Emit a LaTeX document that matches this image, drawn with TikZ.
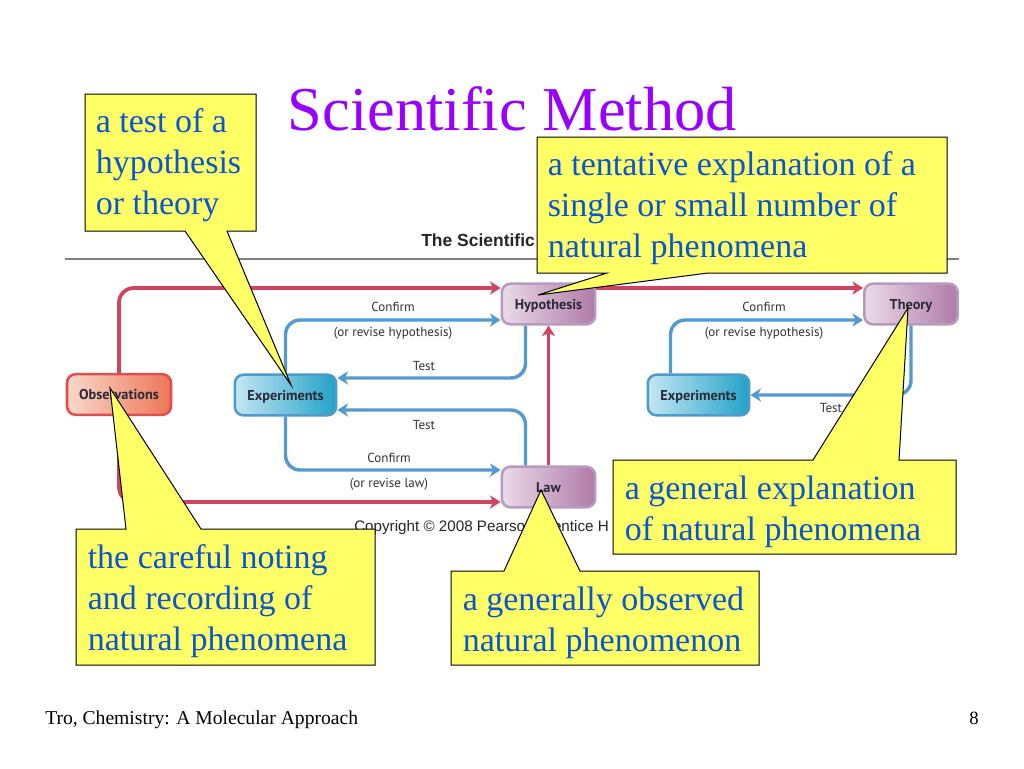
\documentclass[tikz,border=0pt]{standalone}
\usepackage{fontspec}
\setmainfont{Liberation Serif}
\newfontfamily\labfont{PT Sans}
\newfontfamily\arialfont{Liberation Sans}
\usetikzlibrary{arrows.meta,calc}
\definecolor{redline}{HTML}{D1435F}
\definecolor{blueline}{HTML}{5499CF}
\definecolor{calloutfill}{HTML}{FFFF66}
\definecolor{callouttext}{HTML}{0A55D2}
\definecolor{titlecol}{HTML}{9900FF}
\definecolor{labelcol}{HTML}{2A2A38}
\definecolor{obsL}{HTML}{F8D8CA}
\definecolor{obsR}{HTML}{EE7558}
\definecolor{obsD}{HTML}{E04E52}
\definecolor{expL}{HTML}{C4E6F3}
\definecolor{expR}{HTML}{22A2C8}
\definecolor{expD}{HTML}{4F9ACB}
\definecolor{purL}{HTML}{EADBE8}
\definecolor{purR}{HTML}{B07AA8}
\definecolor{purD}{HTML}{B69AC0}
\newcommand{\pxu}{0.75pt}
\tikzset{
  x=0.75pt,y=-0.75pt,
  box/.style={rounded corners=6.5pt,line width=1.9pt,minimum height=30.5pt,inner sep=0pt,
    text height=8.8pt,text depth=1.2pt,
    font=\labfont\bfseries\fontsize{10.7}{12}\selectfont,text=labelcol},
  obsbox/.style={box,draw=obsD,left color=obsL,right color=obsR,minimum width=78pt},
  expbox/.style={box,draw=expD,left color=expL,right color=expR,minimum width=76pt},
  purbox/.style={box,draw=purD,left color=purL,right color=purR,minimum width=70pt},
  redarrow/.style={draw=redline,line width=2.8pt,rounded corners=11pt,-{Stealth[length=8pt,width=10pt,inset=2.5pt]}},
  bluearrow/.style={draw=blueline,line width=2.6pt,rounded corners=11pt,-{Stealth[length=8pt,width=10pt,inset=2.5pt]}},
  lab/.style={font=\labfont\fontsize{9.8}{11}\selectfont,text=black!80,inner sep=0pt},
  callout/.style={draw=black,line width=0.75pt,fill=calloutfill,line join=miter},
  calltext/.style={anchor=north west,inner sep=0pt,align=left,text=callouttext,font=\fontsize{25.5}{30.75}\selectfont},
}
\begin{document}
\begin{tikzpicture}
\useasboundingbox (0,0) rectangle (1024,768);
\fill[white] (0,0) rectangle (1024,768);
% rule and headings
\coordinate (ruleL) at (65,259);
\coordinate (ruleR) at (959,259);
\draw[gray,line width=0.9pt] (ruleL) -- (ruleR);
\node[anchor=base west,inner sep=0pt,font=\arialfont\bfseries\fontsize{13.1}{15}\selectfont,text=black!85] (head) at (421,246) {The Scientific};
\node[anchor=base west,inner sep=0pt,font=\arialfont\fontsize{11.4}{13}\selectfont,text=black!85] (copy) at (354,531) {Copyright © 2008 Pearson Prentice H};
% boxes
\node[obsbox] (obs) at (119,394.5) {Observations};
\node[expbox] (expa) at (285.5,395) {Experiments};
\node[purbox] (hyp) at (548.5,304) {Hypothesis};
\node[purbox] (law) at (548.5,487) {Law};
\node[purbox] (thy) at (911,304) {Theory};
\node[expbox] (expb) at (698.5,395) {Experiments};
% red connectors
\draw[redarrow] (obs.north) |- ([yshift=16*\pxu]hyp.west);
\draw[redarrow] (obs.south) |- ([yshift=-15*\pxu]law.west);
\draw[redarrow] ([yshift=16*\pxu]hyp.east) -- ([yshift=16*\pxu]thy.west);
\draw[redarrow] (law.north) -- (hyp.south);
% blue connectors
\draw[bluearrow] (expa.north) |- ([yshift=-16*\pxu]hyp.west);
\draw[bluearrow] ([xshift=-23*\pxu]hyp.south) |- ([yshift=17*\pxu]expa.east);
\draw[bluearrow] ([xshift=-23*\pxu]law.north) |- ([yshift=-15*\pxu]expa.east);
\draw[bluearrow] (expa.south) |- ([yshift=17*\pxu]law.west);
\draw[bluearrow] ([xshift=-28*\pxu]expb.north) |- ([yshift=-16*\pxu]thy.west);
\draw[bluearrow] (thy.south) |- (expb.east);
% connector labels
\node[lab] (l1) at (393,307) {Confirm};
\node[lab] (l2) at (393,333.5) {(or revise hypothesis)};
\node[lab] (l3) at (424,366) {Test};
\node[lab] (l4) at (424,425) {Test};
\node[lab] (l5) at (389,458) {Confirm};
\node[lab] (l6) at (389,484.5) {(or revise law)};
\node[lab] (l7) at (764,307) {Confirm};
\node[lab] (l8) at (764,333.5) {(or revise hypothesis)};
\node[lab] (l9) at (831,408) {Test};
% callouts
\draw[callout] (85,94) -- (256,94) -- (256,231) -- (227,231) -- (291,385) -- (185,231) -- (85,231) -- cycle;
\draw[callout] (537,137) -- (947,137) -- (947,273) -- (708,273) -- (538,295) -- (607,273) -- (537,273) -- cycle;
\draw[callout] (613,460) -- (813,460) -- (908,308) -- (899,460) -- (956,460) -- (956,554) -- (613,554) -- cycle;
\draw[callout] (451,571) -- (504,571) -- (541,490) -- (580,571) -- (759,571) -- (759,665) -- (451,665) -- cycle;
\draw[callout] (76,529) -- (126,529) -- (110,388) -- (201,529) -- (375,529) -- (375,665) -- (76,665) -- cycle;
\node[calltext] (ta) at (95.5,103.3) {\strut a test of a\\hypothesis\\or theory};
\node[calltext] (tb) at (547.5,146.3) {\strut a tentative explanation of a\\single or small number of\\natural phenomena};
\node[calltext] (tc) at (624.5,470.8) {\strut a general explanation\\of natural phenomena};
\node[calltext] (td) at (462.5,581.3) {\strut a generally observed\\natural phenomenon};
\node[calltext] (te) at (87.5,539.3) {\strut the careful noting\\and recording of\\natural phenomena};
% title and footer
\node[anchor=base west,inner sep=0pt,text=titlecol,font=\fontsize{46.8}{56}\selectfont] (title) at (287.5,130) {Scientific Method};
\node[anchor=base west,inner sep=0pt,font=\fontsize{14.7}{17}\selectfont] (foot) at (45,724) {Tro, Chemistry: A Molecular Approach};
\node[anchor=base east,inner sep=0pt,font=\fontsize{14}{17}\selectfont] (page) at (979,724) {8};
\end{tikzpicture}
\end{document}
